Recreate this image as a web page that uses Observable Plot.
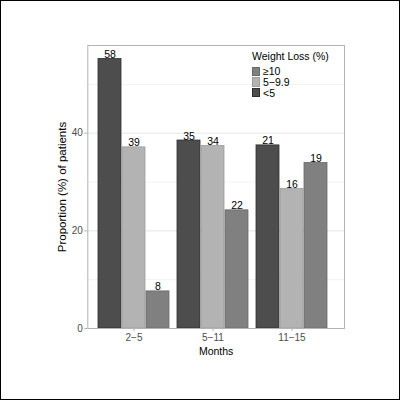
<!DOCTYPE html>
<html>
<head>
<meta charset="utf-8">
<script src="https://cdn.jsdelivr.net/npm/d3@7"></script>
<script src="https://cdn.jsdelivr.net/npm/@observablehq/plot@0.6"></script>
<style>
  body { margin: 0; background: #fff; }
  #chart {
    position: relative;
    width: 400px; height: 400px;
    box-sizing: border-box;
    border: 1px solid #000;
    font-family: "Liberation Sans", Arial, sans-serif;
  }
  #chart svg { display: block; }
  #chart g[aria-label="y-axis label"] text { fill: #000; font-size: 11.5px; }
  #chart g[aria-label="x-axis label"] text { fill: #000; font-size: 10.5px; }
  #legend {
    position: absolute; left: 251px; top: 49px;
    font-size: 10.5px; color: #000;
  }
  #legend .title { margin-bottom: 4px; }
  #legend .row { display: flex; align-items: center; height: 10.7px; }
  #legend .key { width: 8px; height: 9.5px; margin-right: 3px; box-sizing: border-box; border: 0.8px solid; }
</style>
</head>
<body>
<div id="chart"></div>
<script>
const months = ["2−5", "5−11", "11−15"];
const seriesNames = ["<5", "5−9.9", "≥10"];
// proportion (%) of patients per month group
const pctLt5 = [55.2, 38.5, 37.5];
const pctMid = [37.1, 37.4, 28.6];
const pctGe10 = [7.6, 24.2, 33.9];
// counts printed above the bars
const nLt5 = [58, 35, 21];
const nMid = [39, 34, 16];
const nGe10 = [8, 22, 19];
const yTicks = [0, 20, 40];
const yMinor = [10, 30, 50];

const fills = ["#4d4d4d", "#b3b3b3", "#808080"];
const strokes = ["#2e2e2e", "#9c9c9c", "#6a6a6a"];
const barW = 24;

const pcts = [pctLt5, pctMid, pctGe10];
const counts = [nLt5, nMid, nGe10];
const series = seriesNames.map((s, k) =>
  months.map((m, j) => ({ month: m, series: s, pct: pcts[k][j], n: counts[k][j] }))
);

const chart = document.getElementById("chart");

const plot = Plot.plot({
  width: 398,
  height: 398,
  marginTop: 44,
  marginBottom: 71,
  marginLeft: 86.3,
  marginRight: 55,
  style: { fontFamily: "Liberation Sans, Arial, sans-serif", fontSize: "10px" },
  x: { domain: months, paddingInner: 0.1, paddingOuter: 0, insetLeft: 9.4, insetRight: 15.7, label: null },
  y: { domain: [0, 57.96], label: null },
  marks: [
    Plot.gridY(yMinor, { stroke: "#f2f2f2", strokeOpacity: 1 }),
    Plot.gridY(yTicks.filter(d => d > 0), { stroke: "#e6e6e6", strokeOpacity: 1 }),
    ...series.map((rows, k) =>
      Plot.barY(rows, {
        x: "month",
        y: "pct",
        fill: fills[k],
        stroke: strokes[k],
        strokeWidth: 0.8,
        insetLeft: k * barW,
        insetRight: (2 - k) * barW
      })
    ),
    ...series.map((rows, k) =>
      Plot.text(rows, {
        x: "month",
        y: "pct",
        text: "n",
        dx: (k - 1) * barW,
        dy: -1,
        lineAnchor: "bottom",
        fill: "#000",
        fontSize: 10.5
      })
    ),
    Plot.frame({ stroke: "#b3b3b3" }),
    Plot.axisY({
      ticks: yTicks, tickSize: 3, tickPadding: 2,
      stroke: "#b3b3b3", fill: "#4d4d4d",
      label: "Proportion (%) of patients", labelAnchor: "center", labelArrow: "none", labelOffset: 30
    }),
    Plot.axisX({
      tickSize: 3, tickPadding: 2,
      stroke: "#b3b3b3", fill: "#4d4d4d",
      label: "Months", labelAnchor: "center", labelArrow: "none", labelOffset: 26
    })
  ]
});
chart.appendChild(plot);

// legend inside the panel, top right (reverse order like the original)
const legend = document.createElement("div");
legend.id = "legend";
legend.innerHTML = `<div class="title">Weight Loss (%)</div>` +
  seriesNames.map((s, k) => ({ s, k })).reverse().map(({ s, k }) =>
    `<div class="row"><span class="key" style="background:${fills[k]};border-color:${strokes[k]}"></span>${s}</div>`
  ).join("");
chart.appendChild(legend);
</script>
</body>
</html>
